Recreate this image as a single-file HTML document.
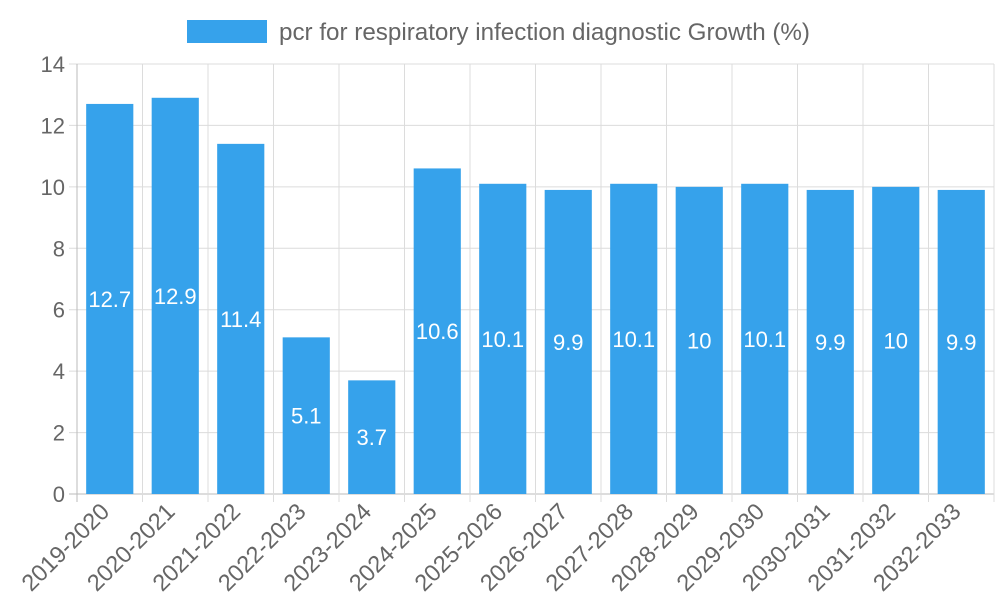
<!DOCTYPE html>
<html><head><meta charset="utf-8"><style>
html,body{margin:0;padding:0;background:#fff;}
svg{display:block;font-family:"Liberation Sans",sans-serif;}
</style></head><body>
<svg id="chart" width="1000" height="600">
<g>
<rect x="187" y="20" width="80" height="23" fill="#36a2eb"></rect>
<text x="279" y="40" font-size="24.2" fill="#666">pcr for respiratory infection diagnostic Growth (%)</text>
</g>
<g id="grid"></g><g id="bars"></g><g id="labels"></g>
</svg>
<script>
const categories=["2019-2020","2020-2021","2021-2022","2022-2023","2023-2024","2024-2025","2025-2026","2026-2027","2027-2028","2028-2029","2029-2030","2030-2031","2031-2032","2032-2033"];
const values=[12.7,12.9,11.4,5.1,3.7,10.6,10.1,9.9,10.1,10,10.1,9.9,10,9.9];
const valueLabels=["12.7","12.9","11.4","5.1","3.7","10.6","10.1","9.9","10.1","10","10.1","9.9","10","9.9"];
const yTicks=[0,2,4,6,8,10,12,14];
const NS="http://www.w3.org/2000/svg";
const L=77,R=994,T=64,B=494,yMax=14;
const bw=(R-L)/categories.length;
const y=v=>B-(v/yMax)*(B-T);
const x=i=>L+i*bw;
function mk(tag,attrs,parent,text){const e=document.createElementNS(NS,tag);for(const k in attrs)e.setAttribute(k,attrs[k]);if(text!==undefined)e.textContent=text;document.getElementById(parent).appendChild(e);return e;}
yTicks.forEach(t=>{
 const l=mk('line',{x1:L-8,x2:R,y1:y(t),y2:y(t),stroke:t===0?'#bbb':'#dcdcdc','stroke-width':1},'grid');
 
 
 const tx=mk('text',{x:L-12,y:y(t)+8,'text-anchor':'end','font-size':22,fill:'#666'},'labels',String(t));
 
 
});
for(let i=0;i<=categories.length;i++){
 const l=mk('line',{x1:x(i),x2:x(i),y1:T,y2:B+8,stroke:i===0?'#bbb':'#dcdcdc','stroke-width':1},'grid');
 
 
}
categories.forEach((c,i)=>{
 const cx=x(i)+bw/2, w=bw*0.72;
 const r=mk('rect',{x:cx-w/2,y:y(values[i]),width:w,height:B-y(values[i]),fill:'#36a2eb'},'bars');
 
 
 const vt=mk('text',{x:cx,y:(y(values[i])+B)/2+8,'text-anchor':'middle','font-size':22,fill:'#fff'},'labels',valueLabels[i]);
 
 
 const xt=mk('text',{x:0,y:0,'text-anchor':'end','font-size':23.5,fill:'#666',transform:`translate(${cx+1},${B+19}) rotate(-45)`},'labels',c);
 
 
});
</script>
</body></html>
